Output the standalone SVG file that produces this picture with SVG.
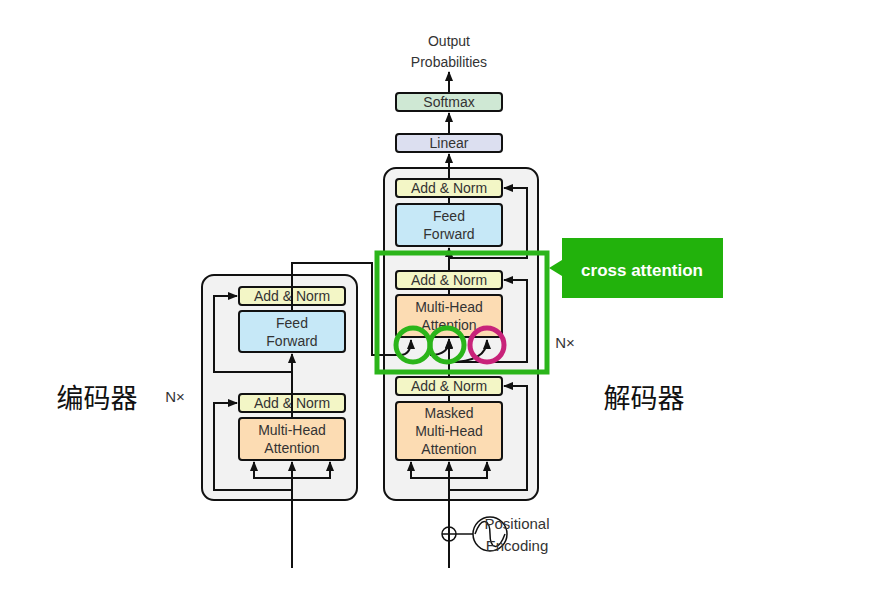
<svg xmlns="http://www.w3.org/2000/svg" width="871" height="603" viewBox="0 0 871 603">
<defs>
<marker id="ah" viewBox="0 0 10 10" refX="9" refY="5" markerWidth="5" markerHeight="5" orient="auto"><path d="M0,1 L10,5 L0,9 z" fill="#111"/></marker>
<style>
text{font-family:"Liberation Sans",Arial,sans-serif;fill:#333;text-anchor:middle}
.bg{fill:#f2f2f2;stroke:#111;stroke-width:2}
.an{fill:#f3f6c6;stroke:#111;stroke-width:2}
.ff{fill:#c6e8f7;stroke:#111;stroke-width:2}
.mh{fill:#fcdcb3;stroke:#111;stroke-width:2}
.ln{fill:none;stroke:#111;stroke-width:2}
.lb{font-size:14px}
</style>
</defs>
<rect width="871" height="603" fill="#fff"/>
<g id="encoder">
<rect class="bg" x="202" y="275" width="155" height="225" rx="12"/>
<rect class="an" x="239" y="287" width="106" height="18" rx="3"/><text class="lb" x="292" y="301">Add &amp; Norm</text>
<rect class="ff" x="239" y="311" width="106" height="41" rx="3"/><text class="lb" x="292" y="328">Feed</text><text class="lb" x="292" y="346">Forward</text>
<rect class="an" x="239" y="394" width="106" height="18" rx="3"/><text class="lb" x="292" y="408">Add &amp; Norm</text>
<rect class="mh" x="239" y="418" width="106" height="42" rx="3"/><text class="lb" x="292" y="435">Multi-Head</text><text class="lb" x="292" y="453">Attention</text>
</g>
<g id="decoder">
<rect class="bg" x="384" y="168" width="154" height="332" rx="12"/>
<rect class="an" x="396" y="179" width="106" height="18" rx="3"/><text class="lb" x="449" y="193">Add &amp; Norm</text>
<rect class="ff" x="396" y="204" width="106" height="42" rx="3"/><text class="lb" x="449" y="221">Feed</text><text class="lb" x="449" y="239">Forward</text>
<rect class="an" x="396" y="271" width="106" height="18" rx="3"/><text class="lb" x="449" y="285">Add &amp; Norm</text>
<rect class="mh" x="396" y="295" width="106" height="42" rx="3"/><text class="lb" x="449" y="312">Multi-Head</text><text class="lb" x="449" y="330">Attention</text>
<rect class="an" x="396" y="377" width="106" height="18" rx="3"/><text class="lb" x="449" y="391">Add &amp; Norm</text>
<rect class="mh" x="396" y="402" width="106" height="58" rx="3"/><text class="lb" x="449" y="418">Masked</text><text class="lb" x="449" y="436">Multi-Head</text><text class="lb" x="449" y="454">Attention</text>
</g>
<g id="linear"><rect x="396" y="134" width="106" height="18" rx="3" fill="#dcdff0" stroke="#111" stroke-width="2"/><text class="lb" x="449" y="148">Linear</text></g>
<g id="softmax"><rect x="396" y="93" width="106" height="18" rx="3" fill="#cfe8d4" stroke="#111" stroke-width="2"/><text class="lb" x="449" y="107">Softmax</text></g>
<g id="output"><text class="lb" x="449" y="46" font-size="15">Output</text><text class="lb" x="449" y="67" font-size="15">Probabilities</text></g>
<g id="posenc">
<circle cx="449" cy="534" r="7" fill="#fff" stroke="#111" stroke-width="1.5"/>
<path d="M442,534 H456 M449,527 V541" stroke="#111" stroke-width="1.5"/>
<line x1="456" y1="534" x2="473" y2="534" stroke="#111" stroke-width="1.5"/>
<circle cx="490" cy="534" r="17" fill="#fff" stroke="#111" stroke-width="1.5"/>
<path d="M475,534 C482,515 490,520 490,534 C490,548 498,553 505,534" fill="none" stroke="#111" stroke-width="1.5"/>
<text x="517" y="529" font-size="15" text-anchor="start">Positional</text>
<text x="517" y="551" font-size="15" text-anchor="start">Encoding</text>
</g>
<g id="connectors">
<path class="ln" d="M292,568 V462" marker-end="url(#ah)"/>
<path class="ln" d="M292,478 H254 V465 M292,478 H330 V465"/>
<path class="ln" d="M254,470 V462" marker-end="url(#ah)"/>
<path class="ln" d="M330,470 V462" marker-end="url(#ah)"/>
<path class="ln" d="M292,490 H214 V403 H237" marker-end="url(#ah)"/>
<path class="ln" d="M292,418 V394"/>
<path class="ln" d="M292,394 V412"/>
<path class="ln" d="M292,394 V354" marker-end="url(#ah)"/>
<path class="ln" d="M292,372 H214 V296 H237" marker-end="url(#ah)"/>
<path class="ln" d="M292,311 V263 H372 V355 H400"/>
<path class="ln" d="M449,568 V462" marker-end="url(#ah)"/>
<path class="ln" d="M449,478 H411 V465 M449,478 H487 V465"/>
<path class="ln" d="M411,470 V462" marker-end="url(#ah)"/>
<path class="ln" d="M487,470 V462" marker-end="url(#ah)"/>
<path class="ln" d="M449,490 H527 V386 H504" marker-end="url(#ah)"/>
<path class="ln" d="M449,402 V395 M449,377 V339" marker-end="url(#ah)"/>
<path class="ln" d="M400,355 Q411,355 411,340" marker-end="url(#ah)"/>
<path class="ln" d="M430,355 Q449,355 449,340" marker-end="url(#ah)"/>
<path class="ln" d="M449,362 Q487,362 487,340" marker-end="url(#ah)"/>
<path class="ln" d="M449,362 H527 V280 H504" marker-end="url(#ah)"/>
<path class="ln" d="M449,295 V289 M449,271 V248" marker-end="url(#ah)"/>
<path class="ln" d="M449,258 H527 V188 H504" marker-end="url(#ah)"/>
<path class="ln" d="M449,204 V197 M449,179 V154" marker-end="url(#ah)"/>
<path class="ln" d="M449,134 V113" marker-end="url(#ah)"/>
<path class="ln" d="M449,93 V72" marker-end="url(#ah)"/>
</g>
<g id="highlight">
<rect x="377" y="253" width="170" height="119" fill="none" stroke="#2bb51a" stroke-width="5"/>
<circle cx="413" cy="345" r="17" fill="none" stroke="#2bb51a" stroke-width="5"/>
<circle cx="447" cy="345" r="17" fill="none" stroke="#2bb51a" stroke-width="5"/>
<circle cx="487" cy="345" r="17" fill="none" stroke="#c8237a" stroke-width="5"/>
</g>
<g id="callout">
<path d="M562,238 H723 V298 H562 V276 L549,268 L562,260 Z" fill="#22b20c"/>
<text x="642" y="276" font-size="17" font-weight="bold" fill="#fff" style="fill:#fff">cross attention</text>
</g>
<g id="labels">
<text x="175" y="402" font-size="15">N×</text>
<text x="565" y="348" font-size="15">N×</text>
<text x="97" y="408" font-size="27" style="font-family:'Noto Sans CJK SC',sans-serif;fill:#111">编码器</text>
<text x="644" y="408" font-size="27" style="font-family:'Noto Sans CJK SC',sans-serif;fill:#111">解码器</text>
</g>
</svg>
